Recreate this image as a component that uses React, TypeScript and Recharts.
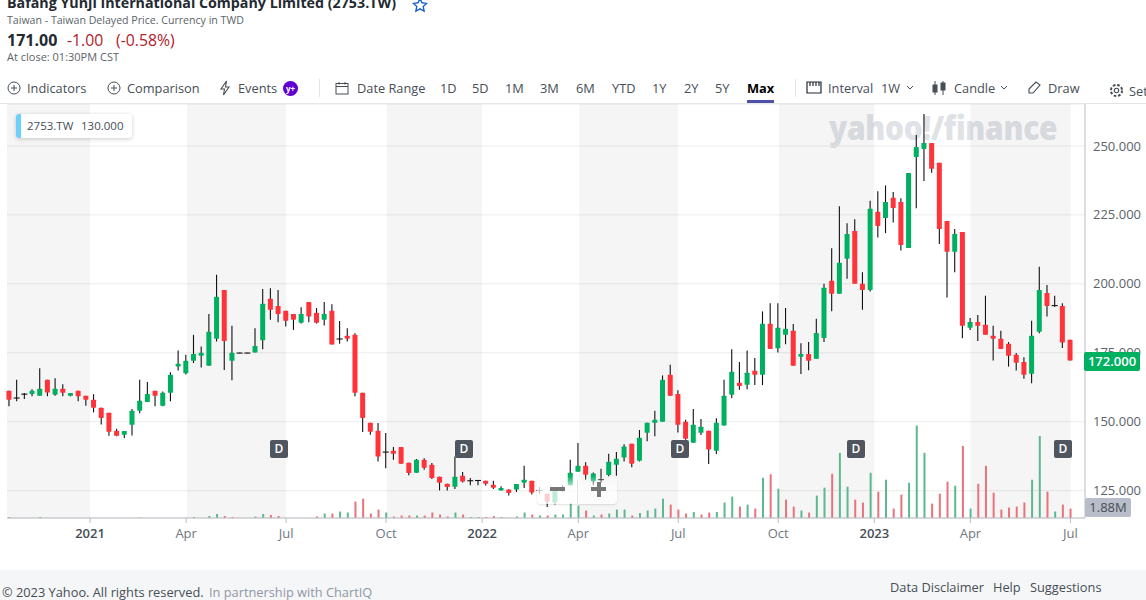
import React from "react";
import { ComposedChart, Bar, Cell, XAxis, YAxis, CartesianGrid, ReferenceArea } from "recharts";

// weekly candles (TWD)
const opens = [
  161.2, 158.6, 160, 160.1, 159.4, 165.2, 159.8, 162, 159.4, 161.2,
  159.4, 158, 155.1, 153.3, 146.7, 145.3, 148.9, 154, 157.2, 161.2,
  155.8, 160.5, 170, 167.6, 172.1, 173.9, 170.3, 180.1, 197.8, 172.1,
  174.9, 174.9, 175.1, 179.5, 194.6, 192, 190.2, 189.1, 185.9, 193.4,
  189.5, 187, 190.2, 180, 181.2, 181.5, 160.5, 149.6, 146.7, 139,
  139.5, 140.8, 135.1, 131.5, 136.2, 134.4, 130.1, 127.5, 126.4, 130.4,
  128.6, 128.7, 128.6, 127.2, 125.1, 125.4, 125.4, 127.9, 128.6, 125.1,
  123.9, 120.8, 125.4, 127, 131.9, 134, 128.4, 129, 130.7, 134.4,
  137, 142, 135.9, 146, 149.6, 150, 167, 160.1, 150, 142.4,
  146, 146.7, 139.5, 148.6, 159.8, 164.1, 163.4, 168.5, 167, 185.5,
  176.6, 181.5, 183, 173.6, 174.6, 172.8, 180.4, 201.1, 196.4, 209.1,
  219.2, 200, 197.8, 226.1, 223.9, 231.2, 229.7, 213, 246, 248.9,
  251.1, 243.9, 222.8, 211.6, 218.8, 184.1, 186.2, 185.2, 181.2, 180.1,
  178.3, 174.3, 171.7, 167.4, 182.6, 196.7, 192.1, 192, 179.7,
];
const closes = [
  158, 158.6, 160, 161.2, 162, 160.6, 162, 160.5, 160.4, 159.2,
  158, 155.1, 151.4, 146.4, 144.9, 146.6, 154, 157.6, 160.1, 159.4,
  160.5, 167, 171, 172.1, 174.6, 175, 182.6, 195.3, 179.3, 175,
  174.9, 174.9, 177.5, 192.8, 190.6, 189.1, 186.6, 187, 189.1, 188.2,
  185.9, 189.1, 178, 180, 180.1, 160.5, 151.4, 146.4, 137.4, 139,
  138.4, 134.8, 131.4, 136.2, 133.3, 129.6, 127.9, 126.3, 130.1, 128.3,
  128.6, 128.7, 127.5, 126.1, 126, 124.2, 127.4, 129, 124.3, 125.1,
  121.1, 124.8, 126, 131.5, 134, 130.8, 131.2, 129, 135.5, 136.6,
  141, 134.8, 144.2, 149.6, 150.7, 165.2, 159.4, 148.9, 143.8, 148.9,
  148.2, 139.9, 149.6, 159.4, 168.1, 163, 167.8, 167, 185.5, 176.4,
  184.1, 183.7, 170.3, 174.6, 172.1, 182.2, 198.6, 196.4, 207.6, 218.1,
  200, 197.8, 227.2, 221, 229.7, 227.5, 214.1, 240.2, 249.6, 251.1,
  241.7, 219.9, 211.6, 218.1, 184.8, 186.2, 184.8, 181.5, 180.1, 176.4,
  173.9, 171.4, 167, 181.2, 197.8, 192, 192.1, 178.7, 172.2,
];
const highs = [
  161.2, 165.2, 160.4, 161.8, 169.4, 165.2, 165.8, 163.6, 160.4, 161.2,
  159.4, 160, 155.1, 153.3, 147.5, 146.6, 154.6, 165.2, 164.4, 161.2,
  161, 167.9, 175.8, 174.3, 181.5, 177.3, 189.1, 203.3, 197.8, 184.8,
  175, 175, 183.9, 198.1, 198.4, 197.8, 190.2, 189.1, 191.5, 193.4,
  191.2, 193.4, 192.6, 186.5, 183.9, 182.1, 160.5, 149.6, 149.5, 145.9,
  140.8, 140.8, 135.1, 136.5, 136.8, 135, 130.1, 127.5, 137.4, 131.8,
  129.6, 128.9, 128.6, 128.6, 126.6, 125.4, 127.4, 134, 128.6, 126.3,
  123.9, 124.8, 127, 136.2, 142.3, 135.3, 131.6, 133, 138.4, 139,
  141.8, 142, 147, 149.6, 154, 166.8, 170.7, 161.4, 150.7, 154.6,
  151, 146.7, 151.3, 165.2, 176.3, 171.7, 175.8, 173.1, 190, 193,
  193, 191.2, 185.4, 178.5, 178.9, 187.3, 200, 212.9, 228.1, 222,
  223.4, 204.2, 230.1, 233.6, 235.7, 233.3, 231, 240.2, 254, 261.6,
  251.1, 243.9, 222.8, 219.9, 218.8, 187.6, 188.7, 195.7, 184.8, 183,
  178.9, 174.9, 173.4, 186.6, 206.2, 199.6, 195.7, 193, 179.7,
];
const lows = [
  155.6, 157.4, 158.2, 159.2, 159.4, 159.2, 159.4, 159.2, 159.2, 157.4,
  155.8, 153.4, 149, 144.9, 144.7, 144.1, 145, 153.1, 157.2, 155.6,
  155.6, 157.4, 168.6, 167.1, 171.3, 169.7, 170.3, 179.1, 168.8, 165,
  174.8, 174.8, 175.1, 176.3, 187, 186.1, 184.5, 183.3, 185.6, 186.1,
  185.6, 184.9, 178, 178.3, 179.1, 159.2, 146.3, 145.3, 135.6, 133.1,
  136.2, 134.8, 130.6, 131.5, 132.6, 129.2, 125.1, 125.1, 125.6, 128,
  127, 127, 126.9, 125.6, 125.1, 123.3, 124.5, 126, 123.6, 123.9,
  119.1, 120, 124.6, 127, 131.9, 129, 127, 128, 130.2, 130.4,
  135.6, 133.5, 135.6, 142.9, 144.7, 150, 159.4, 146.1, 143.5, 142.4,
  145.2, 134.7, 138.3, 148.6, 158.6, 161.6, 161.8, 163.3, 163.3, 176.4,
  175.1, 178.1, 170.3, 167.3, 168.7, 172.8, 178.9, 190.1, 196.4, 201.8,
  200, 190.6, 197.2, 216.8, 218.4, 222.2, 212.1, 213, 227.4, 237.3,
  240.3, 214.4, 195, 204.2, 180.3, 183.3, 179.3, 181.5, 172.2, 176.4,
  170, 168.6, 165.6, 164, 182.1, 188.2, 191.7, 176.7, 172.2,
];
// volume in millions of shares
const volumes = [
  0.2, 0, 0, 0, 0.2, 0, 0, 0, 0, 0,
  0, 0, 0, 0, 0, 0, 0, 0.1, 0, 0,
  0, 0, 0, 0, 0.2, 0, 0.4, 0.8, 0.4, 0.2,
  0, 0, 0.3, 0.8, 0.6, 0.4, 0, 0, 0, 0,
  0.3, 0.9, 0.9, 1.3, 1.1, 3.3, 3.9, 0.9, 1.7, 1.1,
  0.3, 0.5, 0.5, 0.5, 0.5, 1.1, 0.7, 0.3, 1.1, 0.7,
  0.2, 0.2, 0.2, 0.4, 0.2, 0.05, 0.3, 1.1, 0.7, 0.5,
  0.5, 0.7, 0.7, 3, 2.5, 1.5, 0.5, 0.7, 0.9, 1.7,
  1.7, 0.5, 1, 1.5, 1.9, 3.9, 2.7, 1.7, 0.9, 1.2,
  0.7, 1.1, 1.2, 3.1, 4.3, 2.3, 2.7, 1.9, 8.1, 8.8,
  5.9, 3.7, 2.3, 1.5, 1.1, 4.5, 6.1, 8.9, 13.1, 6.3,
  3.7, 3.1, 9.1, 5.3, 7.7, 1.9, 4.7, 7.1, 18.6, 13.1,
  2.9, 4.9, 7.3, 6.5, 14.5, 1.9, 6.9, 10.5, 5.1, 1.7,
  2.1, 2.3, 3.1, 7.7, 16.5, 5.3, 1.3, 2.7, 1.88,
];

const priceTicks = [125, 150, 175, 200, 225, 250];
// x positions are week indexes, quarter marks fall between some candles
const quarterTicks = [10.5, 23, 36, 49, 61.5, 74, 87, 100, 112.5, 125, 138];
const quarterLabels = ["2021", "Apr", "Jul", "Oct", "2022", "Apr", "Jul", "Oct", "2023", "Apr", "Jul"];
const shadedQuarters = [[-0.3, 10.5], [23.1, 36], [49.1, 61.5], [74.1, 87], [100.1, 112.5], [125, 138.05]];
const xDomain = [-0.3, 139.9];

const GREEN = "#00b061";
const RED = "#ff333a";
const FONT = "'Open Sans', sans-serif";

const rows = opens.map((open, i) => ({
  i,
  open,
  close: closes[i],
  high: highs[i],
  low: lows[i],
  range: [lows[i], highs[i]],
  volume: volumes[i],
  volUp: i === 0 ? false : closes[i] > closes[i - 1],
}));

function Candle(props: any) {
  const { x, y, width, height, payload } = props;
  const perUnit = height / (payload.high - payload.low);
  const cx = x + width / 2;
  const yOf = (v: number) => y + (payload.high - v) * perUnit;
  const top = yOf(Math.max(payload.open, payload.close));
  const bottom = yOf(Math.min(payload.open, payload.close));
  const doji = Math.abs(payload.open - payload.close) < 0.05;
  return (
    <g>
      <line x1={cx} x2={cx} y1={y} y2={y + height} stroke="#111" strokeWidth={1.1} />
      {doji ? (
        <line x1={cx - 3} x2={cx + 3} y1={top} y2={top} stroke="#111" strokeWidth={1.1} />
      ) : (
        <rect
          x={x}
          y={top}
          width={width}
          height={Math.max(bottom - top, 1)}
          rx={0.6}
          fill={payload.close > payload.open ? GREEN : RED}
        />
      )}
    </g>
  );
}

function QuarterTick(props: any) {
  const { x, y, payload, index } = props;
  const label = quarterLabels[index];
  const isYear = label.length === 4;
  return (
    <text
      x={x}
      y={y + 13}
      textAnchor="middle"
      fontFamily={FONT}
      fontSize={13}
      fontWeight={isYear ? 600 : 400}
      fill={isYear ? "#464e56" : "#6e7780"}
      data-tick={payload.value}
    >
      {label}
    </text>
  );
}

function T({ x, y, size = 12.8, color = "#464e56", weight = 400, children }: any) {
  return (
    <div
      style={{
        position: "absolute",
        left: x,
        top: y,
        fontSize: size,
        lineHeight: "18px",
        color,
        fontWeight: weight,
        whiteSpace: "nowrap",
      }}
    >
      {children}
    </div>
  );
}

function PlusCircle({ x }: { x: number }) {
  return (
    <svg style={{ position: "absolute", left: x, top: 81 }} width={14} height={14} viewBox="0 0 14 14" fill="none" stroke="#464e56" strokeWidth={1}>
      <circle cx={7} cy={7} r={6} />
      <path d="M4 7h6M7 4v6" />
    </svg>
  );
}

function DBadge({ x }: { x: number }) {
  return (
    <div
      style={{
        position: "absolute",
        left: x - 9,
        top: 440,
        width: 18,
        height: 18,
        background: "#4f5660",
        borderRadius: 2,
        color: "#fff",
        fontSize: 12,
        fontWeight: 600,
        lineHeight: "18px",
        textAlign: "center",
      }}
    >
      D
    </div>
  );
}

export default function App() {
  return (
    <div style={{ position: "relative", width: 1146, height: 600, overflow: "hidden", background: "#fff", fontFamily: FONT }}>
      <style>{`body{margin:0}`}</style>

      {/* header */}
      <T x={7} y={-6} size={14.25} color="#232a31" weight={700}>Bafang Yunji International Company Limited (2753.TW)</T>
      <svg style={{ position: "absolute", left: 412, top: -3 }} width={16} height={16} viewBox="0 0 16 16" fill="none" stroke="#1a5fd0" strokeWidth={1.4}>
        <path d="M8 1.5l2 4.3 4.6.6-3.4 3.1.9 4.6L8 11.8l-4.1 2.3.9-4.6L1.4 6.4 6 5.8z" />
      </svg>
      <T x={7} y={11} size={10.6} color="#5b636a">Taiwan - Taiwan Delayed Price. Currency in TWD</T>
      <T x={7} y={31} size={16} color="#232a31" weight={700}>171.00</T>
      <T x={67} y={31} size={15.8} color="#b3202a">-1.00</T>
      <T x={116} y={31} size={15.8} color="#b3202a">(-0.58%)</T>
      <T x={7} y={48} size={11} color="#5b636a">At close: 01:30PM CST</T>

      {/* toolbar */}
      <PlusCircle x={7} />
      <T x={27} y={79}>Indicators</T>
      <PlusCircle x={107} />
      <T x={127} y={79}>Comparison</T>
      <svg style={{ position: "absolute", left: 219, top: 80 }} width={12} height={16} viewBox="0 0 12 16" fill="none" stroke="#464e56" strokeWidth={1.1}>
        <path d="M7.5 1L2 9h3.5L4.5 15 10 7H6.5z" />
      </svg>
      <T x={238} y={79}>Events</T>
      <div style={{ position: "absolute", left: 283, top: 81, width: 15, height: 15, borderRadius: 8, background: "#6001d2", color: "#fff", fontSize: 8, fontWeight: 700, lineHeight: "15px", textAlign: "center" }}>y+</div>
      <div style={{ position: "absolute", left: 319, top: 79, width: 1, height: 18, background: "#e0e4e9" }} />
      <svg style={{ position: "absolute", left: 335, top: 81 }} width={14} height={14} viewBox="0 0 14 14" fill="none" stroke="#464e56" strokeWidth={1}>
        <rect x={1} y={2.5} width={12} height={10.5} />
        <path d="M1 5.5h12M4 1v2.5M10 1v2.5" />
      </svg>
      <T x={357} y={79}>Date Range</T>
      <T x={440} y={79}>1D</T>
      <T x={472} y={79}>5D</T>
      <T x={505} y={79}>1M</T>
      <T x={540} y={79}>3M</T>
      <T x={576} y={79}>6M</T>
      <T x={612} y={79}>YTD</T>
      <T x={652} y={79}>1Y</T>
      <T x={684} y={79}>2Y</T>
      <T x={715} y={79}>5Y</T>
      <T x={747} y={79} color="#000" weight={700}>Max</T>
      <div style={{ position: "absolute", left: 747, top: 100, width: 27, height: 3, background: "#4d52a8" }} />
      <div style={{ position: "absolute", left: 795, top: 79, width: 1, height: 18, background: "#e0e4e9" }} />
      <svg style={{ position: "absolute", left: 806, top: 80 }} width={16} height={15} viewBox="0 0 16 15" fill="none" stroke="#232a31" strokeWidth={1.2}>
        <path d="M1 2h14v11H1z" />
        <path d="M4 2v4M7 2v4M10 2v4M13 2v4" />
      </svg>
      <T x={828} y={79}>Interval</T>
      <T x={881} y={79}>1W</T>
      <svg style={{ position: "absolute", left: 906, top: 85 }} width={8} height={6} viewBox="0 0 8 6" fill="none" stroke="#464e56"><path d="M1 1l3 3 3-3" /></svg>
      <svg style={{ position: "absolute", left: 931, top: 80 }} width={16} height={16} viewBox="0 0 16 16" fill="#464e56" stroke="#464e56">
        <path d="M4 1v14M12 1v14" />
        <rect x={2} y={5} width={4} height={7} />
        <rect x={10} y={3} width={4} height={7} />
      </svg>
      <T x={954} y={79}>Candle</T>
      <svg style={{ position: "absolute", left: 1000, top: 85 }} width={8} height={6} viewBox="0 0 8 6" fill="none" stroke="#464e56"><path d="M1 1l3 3 3-3" /></svg>
      <svg style={{ position: "absolute", left: 1027, top: 80 }} width={15} height={15} viewBox="0 0 15 15" fill="none" stroke="#464e56" strokeWidth={1.1}>
        <path d="M2 9l7-7 4 3-7 8H2z" />
      </svg>
      <T x={1048} y={79}>Draw</T>
      <svg style={{ position: "absolute", left: 1109, top: 83 }} width={15} height={15} viewBox="0 0 15 15" fill="none" stroke="#464e56" strokeWidth={1.1}>
        <circle cx={7.5} cy={7.5} r={2.2} />
        <circle cx={7.5} cy={7.5} r={5.6} strokeDasharray="2.6 1.8" strokeWidth={2} />
      </svg>
      <T x={1129} y={82}>Settings</T>
      <div style={{ position: "absolute", left: 0, top: 103, width: 1146, height: 1, background: "#e0e4e9" }} />

      {/* watermark sits under the chart, the shaded quarters wash over it */}
      <div style={{ position: "absolute", left: 829, top: 106, fontSize: 33, fontWeight: 800, color: "#dfe2e6", lineHeight: "44px", letterSpacing: -0.3, whiteSpace: "nowrap", transform: "scaleX(0.905)", transformOrigin: "left" }}>
        yahoo!/finance
      </div>

      <div style={{ position: "absolute", left: 0, top: 0 }}>
        <ComposedChart
          width={1146}
          height={600}
          data={rows}
          margin={{ top: 104, right: 0, bottom: 52, left: 7 }}
        >
          <CartesianGrid yAxisId="price" vertical={false} stroke="#ececec" />
          <XAxis
            dataKey="i"
            type="number"
            domain={xDomain}
            ticks={quarterTicks}
            interval={0}
            height={30}
            stroke="#b9bdc3"
            tickSize={5}
            tick={<QuarterTick />}
          />
          {/* second hidden x axis so the two bar series overlay instead of sitting side by side */}
          <XAxis xAxisId="vol" dataKey="i" type="number" domain={xDomain} ticks={quarterTicks} hide />
          <YAxis
            yAxisId="price"
            orientation="right"
            domain={[115.1, 265.2]}
            ticks={priceTicks}
            width={61}
            stroke="#b9bdc3"
            tickLine={false}
            tick={{ fontSize: 13, fill: "#5b636a", fontFamily: FONT }}
            tickMargin={2}
            tickFormatter={(v: number) => v.toFixed(3)}
          />
          <YAxis yAxisId="vol" hide domain={[0, 83.3]} />
          {shadedQuarters.map(([x1, x2]) => (
            <ReferenceArea key={x1} yAxisId="price" x1={x1} x2={x2} fill="#000" fillOpacity={0.04} stroke="none" />
          ))}
          <Bar xAxisId="vol" yAxisId="vol" dataKey="volume" barSize={2} isAnimationActive={false}>
            {rows.map((r) => (
              <Cell key={r.i} fill={r.volUp ? "#5db88f" : "#e9737b"} />
            ))}
          </Bar>
          <Bar yAxisId="price" dataKey="range" barSize={5} isAnimationActive={false} shape={(p: any) => <Candle {...p} />} />
        </ComposedChart>
      </div>

      {/* legend chip */}
      <div style={{ position: "absolute", left: 16, top: 114, width: 116, height: 24, background: "#fff", borderRadius: 3, boxShadow: "0 1px 4px rgba(0,0,0,.2)", overflow: "hidden" }}>
        <div style={{ position: "absolute", left: 0, top: 0, width: 5, height: 24, background: "#6dcffb" }} />
        <T x={11} y={3} size={11.5} color="#464e56">2753.TW</T>
        <T x={65} y={3} size={11.5} color="#464e56">130.000</T>
      </div>

      <DBadge x={279} />
      <DBadge x={464} />
      <DBadge x={680} />
      <DBadge x={856} />
      <DBadge x={1063} />

      {/* zoom control */}
      <div style={{ position: "absolute", left: 537, top: 476, width: 80, height: 28, borderRadius: 4, background: "linear-gradient(rgba(255,255,255,0),rgba(255,255,255,.75) 40%)", boxShadow: "0 1px 2px rgba(0,0,0,.12)" }}>
        <div style={{ position: "absolute", left: 13, top: 11, width: 15, height: 4, background: "#777" }} />
        <div style={{ position: "absolute", left: 40, top: 4, width: 1, height: 24, background: "#e4e4e4" }} />
        <div style={{ position: "absolute", left: 54, top: 11, width: 15, height: 4, background: "#777" }} />
        <div style={{ position: "absolute", left: 59.5, top: 5.5, width: 4, height: 15, background: "#777" }} />
      </div>

      {/* last price and last volume tags */}
      <div style={{ position: "absolute", left: 1084, top: 352, width: 56, height: 19, background: GREEN, borderRadius: 2, color: "#fff", fontSize: 13, fontWeight: 600, lineHeight: "19px", textAlign: "center" }}>172.000</div>
      <div style={{ position: "absolute", left: 1085, top: 498, width: 46, height: 19, background: "#b9bdc9", borderRadius: 2, color: "#464e56", fontSize: 13, lineHeight: "19px", textAlign: "center" }}>1.88M</div>

      {/* footer */}
      <div style={{ position: "absolute", left: 0, top: 570, width: 1146, height: 30, background: "#f5f6f7" }} />
      <T x={2} y={583} color="#464e56">© 2023 Yahoo. All rights reserved.</T>
      <T x={209} y={583} color="#8f96a3">In partnership with ChartIQ</T>
      <T x={890} y={578} color="#464e56">Data Disclaimer</T>
      <T x={993} y={578} color="#464e56">Help</T>
      <T x={1030} y={578} color="#464e56">Suggestions</T>
    </div>
  );
}
